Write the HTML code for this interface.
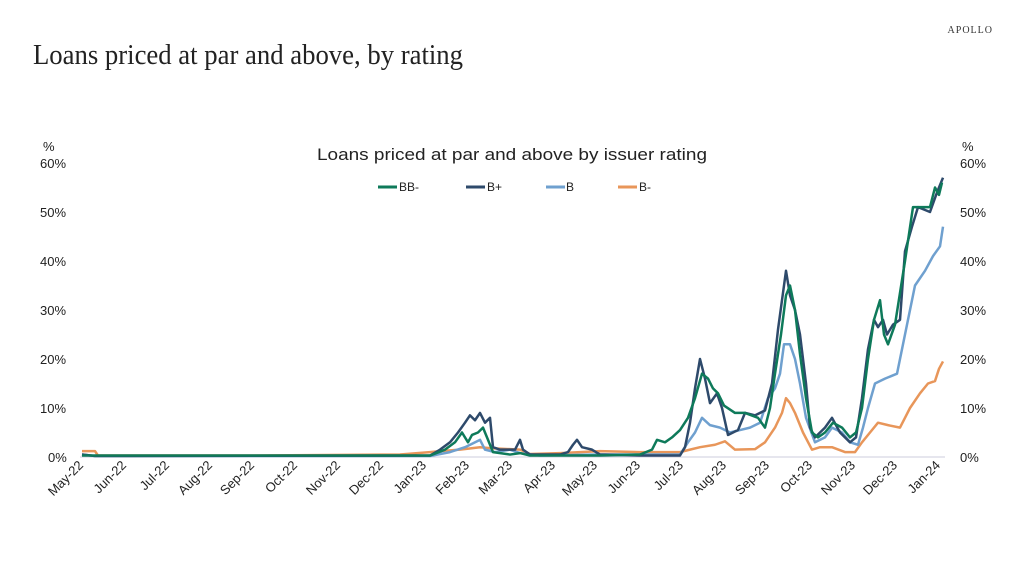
<!DOCTYPE html>
<html><head><meta charset="utf-8"><style>
body{margin:0;width:1024px;height:576px;background:#fff;overflow:hidden}
</style></head><body>
<svg width="1024" height="576" xmlns="http://www.w3.org/2000/svg" font-family="Liberation Sans, sans-serif">
<text x="33" y="64" font-family="Liberation Serif, serif" font-size="29" fill="#222" textLength="430" lengthAdjust="spacingAndGlyphs">Loans priced at par and above, by rating</text>
<text x="993" y="33" font-family="Liberation Serif, serif" font-size="10" fill="#333" text-anchor="end" letter-spacing="1">APOLLO</text>
<text x="512" y="160" font-size="17" fill="#222" text-anchor="middle" textLength="390" lengthAdjust="spacingAndGlyphs">Loans priced at par and above by issuer rating</text>
<g font-size="12" fill="#222">
<line x1="378" y1="187" x2="397" y2="187" stroke="#0e7a5a" stroke-width="3"/><text x="399" y="191">BB-</text>
<line x1="466" y1="187" x2="485" y2="187" stroke="#2e4a6b" stroke-width="3"/><text x="487" y="191">B+</text>
<line x1="546" y1="187" x2="565" y2="187" stroke="#6fa0cf" stroke-width="3"/><text x="566" y="191">B</text>
<line x1="618" y1="187" x2="637" y2="187" stroke="#e8965a" stroke-width="3"/><text x="639" y="191">B-</text>
</g>
<g font-size="13" fill="#222">
<text x="43" y="151">%</text><text x="962" y="151">%</text>
<text x="40" y="168">60%</text><text x="40" y="217">50%</text><text x="40" y="266">40%</text><text x="40" y="315">30%</text><text x="40" y="364">20%</text><text x="40" y="413">10%</text><text x="48" y="462">0%</text>
<text x="960" y="168">60%</text><text x="960" y="217">50%</text><text x="960" y="266">40%</text><text x="960" y="315">30%</text><text x="960" y="364">20%</text><text x="960" y="413">10%</text><text x="960" y="462">0%</text>
</g>
<line x1="80" y1="457" x2="945" y2="457" stroke="#ccd" stroke-width="1"/>
<g font-size="13" fill="#222" text-anchor="end">
<text transform="translate(84,466) rotate(-45)">May-22</text>
<text transform="translate(127,466) rotate(-45)">Jun-22</text>
<text transform="translate(170,466) rotate(-45)">Jul-22</text>
<text transform="translate(213,466) rotate(-45)">Aug-22</text>
<text transform="translate(255,466) rotate(-45)">Sep-22</text>
<text transform="translate(298,466) rotate(-45)">Oct-22</text>
<text transform="translate(341,466) rotate(-45)">Nov-22</text>
<text transform="translate(384,466) rotate(-45)">Dec-22</text>
<text transform="translate(427,466) rotate(-45)">Jan-23</text>
<text transform="translate(470,466) rotate(-45)">Feb-23</text>
<text transform="translate(513,466) rotate(-45)">Mar-23</text>
<text transform="translate(556,466) rotate(-45)">Apr-23</text>
<text transform="translate(598,466) rotate(-45)">May-23</text>
<text transform="translate(641,466) rotate(-45)">Jun-23</text>
<text transform="translate(684,466) rotate(-45)">Jul-23</text>
<text transform="translate(727,466) rotate(-45)">Aug-23</text>
<text transform="translate(770,466) rotate(-45)">Sep-23</text>
<text transform="translate(813,466) rotate(-45)">Oct-23</text>
<text transform="translate(856,466) rotate(-45)">Nov-23</text>
<text transform="translate(898,466) rotate(-45)">Dec-23</text>
<text transform="translate(941,466) rotate(-45)">Jan-24</text>
</g>
<g transform="translate(0,457) scale(1,-4.9)" fill="none" stroke-width="2.5" stroke-linejoin="round">
<polyline vector-effect="non-scaling-stroke" stroke="#e8965a" points="82,1.2 95,1.2 98,0.3 250,0.3 400,0.5 430,1 440,1.2 460,1.5 480,2 490,1.8 520,1.5 530,0.6 560,0.8 600,1.2 640,1 680,1 690,1.5 700,2 715,2.5 725,3.2 735,1.5 755,1.6 765,3 775,6 782,9 786,12 790,11 795,9 803,5 812,1.5 820,2 832,2 845,1 855,1 862,3 870,5 878,7 888,6.5 900,6 905,8 910,10 920,13 928,15 935,15.5 939,18 943,19.5"/>
<polyline vector-effect="non-scaling-stroke" stroke="#6fa0cf" points="82,0.5 95,0.2 430,0.2 450,1 465,2 480,3.5 485,1.5 495,1 510,1.5 520,0.8 540,0.3 600,0.5 680,0.5 688,3 695,5 702,8 710,6.5 720,6 730,5 740,5.5 750,6 760,7 768,12 775,14 780,17 784,23 790,23 795,20 800,15 806,8 815,3 825,4 832,6 842,5 850,3 858,2.5 863,6 868,10 875,15 885,16 897,17 905,25 915,35 925,38 933,41 940,43 943,47"/>
<polyline vector-effect="non-scaling-stroke" stroke="#2e4a6b" points="82,0.5 95,0.2 430,0.3 440,1.5 450,3 458,5 465,7 470,8.5 475,7.5 480,9 485,7 490,8 493,2 500,1.5 515,1.5 520,3.5 523,1.5 530,0.5 560,0.5 568,1 573,2.5 577,3.5 582,2 592,1.5 600,0.5 640,0.3 680,0.3 685,2 690,7 695,14 700,20 705,16 710,11 717,13 722,10 728,4.5 738,5.5 745,9 755,8.5 765,9.5 772,15 778,26 784,35 786,38 790,33 795,30 800,25 806,15 810,6 815,4 825,6 832,8 840,5 850,3 856,4 862,12 868,22 874,28 878,26.5 883,28 887,25 893,27 900,28 905,42 912,47 918,51 930,50 937,54 943,57"/>
<polyline vector-effect="non-scaling-stroke" stroke="#0e7a5a" points="82,0.3 430,0.3 445,1.5 455,3 462,5 468,3 472,4.5 478,5 483,6 487,4 493,1 510,0.5 520,0.8 530,0.3 600,0.3 640,0.5 652,1.5 657,3.5 665,3 672,4 680,5.5 688,8 695,12 702,17 708,16 713,14 718,13 724,10.5 735,9 745,9 758,8 765,6 770,10 775,17 781,25 786,33 790,35 795,30 800,21 806,12 812,5 818,4 825,5 833,7 842,6 850,4 856,5 862,10 868,20 874,28 880,32 884,25 888,23 895,27 905,40 913,51 920,51 930,51 935,55 939,53.5 942,56"/>
</g>
</svg>
</body></html>
